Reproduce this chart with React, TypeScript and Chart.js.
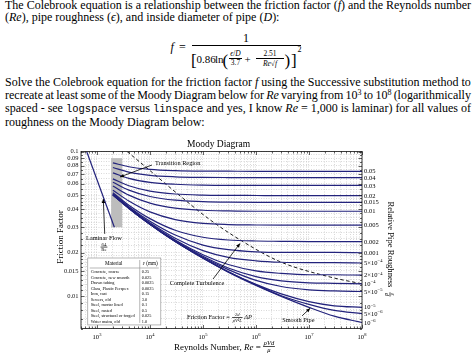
import React, { useEffect, useRef } from "react";
import { Chart, registerables } from "chart.js";

Chart.register(...registerables);

// ---------------- data ----------------
const reynoldsNumbers = [2000, 4000, 1e4, 3e4, 1e5, 3e5, 1e6, 3e6, 1e7, 3e7, 1e8];

const fRough0p05 = [0.0835, 0.0785, 0.0753, 0.0738, 0.0732, 0.0731, 0.073, 0.073, 0.073, 0.073, 0.073];
const fRough0p04 = [0.0775, 0.0721, 0.0685, 0.0669, 0.0663, 0.0661, 0.066, 0.066, 0.066, 0.066, 0.066];
const fRough0p03 = [0.0712, 0.0653, 0.0613, 0.0594, 0.0586, 0.0584, 0.0584, 0.0583, 0.0583, 0.0583, 0.0583];
const fRough0p02 = [0.0647, 0.058, 0.0533, 0.0509, 0.05, 0.0498, 0.0497, 0.0496, 0.0496, 0.0496, 0.0496];
const fRough0p015 = [0.0613, 0.0541, 0.0489, 0.0461, 0.0451, 0.0447, 0.0446, 0.0446, 0.0446, 0.0446, 0.0446];
const fRough0p01 = [0.0578, 0.05, 0.044, 0.0406, 0.0393, 0.0389, 0.0387, 0.0387, 0.0387, 0.0387, 0.0387];
const fRough0p005 = [0.0541, 0.0455, 0.0383, 0.0339, 0.0319, 0.0313, 0.0311, 0.031, 0.031, 0.031, 0.031];
const fRough0p002 = [0.0519, 0.0426, 0.0344, 0.0286, 0.0256, 0.0245, 0.0241, 0.024, 0.0239, 0.0239, 0.0239];
const fRough0p001 = [0.0512, 0.0416, 0.033, 0.0265, 0.0226, 0.021, 0.0203, 0.0201, 0.0201, 0.0201, 0.02];
const fRough5em4 = [0.0507, 0.0411, 0.0322, 0.0252, 0.0207, 0.0186, 0.0176, 0.0172, 0.0171, 0.0171, 0.017];
const fRough2em4 = [0.0504, 0.0408, 0.0317, 0.0245, 0.0194, 0.0166, 0.015, 0.0144, 0.0141, 0.0141, 0.014];
const fRough1em4 = [0.0504, 0.0407, 0.0316, 0.0242, 0.0189, 0.0157, 0.0137, 0.0128, 0.0124, 0.0123, 0.0122];
const fRough5em5 = [0.0503, 0.0406, 0.0315, 0.024, 0.0186, 0.0153, 0.0129, 0.0117, 0.0111, 0.0109, 0.0108];
const fRough1em5 = [0.0503, 0.0406, 0.0314, 0.0239, 0.0184, 0.0148, 0.0121, 0.0104, 0.0092, 0.0086, 0.0084];
const fRough5em6 = [0.0503, 0.0406, 0.0314, 0.0239, 0.0184, 0.0148, 0.012, 0.0101, 0.0088, 0.008, 0.0076];
const fRough1em6 = [0.0503, 0.0406, 0.0314, 0.0239, 0.0183, 0.0147, 0.0119, 0.01, 0.0084, 0.0073, 0.0066];

const roughnessSeries = [
  fRough0p05, fRough0p04, fRough0p03, fRough0p02, fRough0p015, fRough0p01, fRough0p005, fRough0p002,
  fRough0p001, fRough5em4, fRough2em4, fRough1em4, fRough5em5, fRough1em5, fRough5em6, fRough1em6,
];
// right-hand labels: [prefix, exponent]
const roughnessMantissa = ["0.05", "0.04", "0.03", "0.02", "0.015", "0.01", "0.005", "0.002", "0.001", "5×10", "2×10", "10", "5×10", "10", "5×10", "10"];
const roughnessExponent = ["", "", "", "", "", "", "", "", "", "−4", "−4", "−4", "−5", "−5", "−6", "−6"];

const laminarRe = [640, 2130];
const laminarF = [0.1, 0.03];

const turbulenceRe = [3700, 7500, 30000, 137000, 575000, 2900000, 25000000, 100000000];
const turbulenceF = [0.1, 0.0807, 0.0526, 0.0337, 0.0238, 0.0173, 0.0136, 0.0122];

const transitionRe = [1850, 3000];
const transitionF = [0.03, 0.09];

const xTickPowers = [3, 4, 5, 6, 7, 8];
const yTickLabels = [0.1, 0.09, 0.08, 0.07, 0.06, 0.05, 0.04, 0.03, 0.02, 0.015, 0.01];

const materials = [
  "Concrete, coarse", "Concrete, new smooth", "Drawn tubing", "Glass, Plastic Perspex", "Iron, cast",
  "Sewers, old", "Steel, mortar lined", "Steel, rusted", "Steel, structural or forged", "Water mains, old",
];
const materialRoughness = ["0.25", "0.025", "0.0025", "0.0025", "0.15", "3.0", "0.1", "0.5", "0.025", "1.0"];

// ---------------- style ----------------
const SERIF = "'Liberation Serif', 'Times New Roman', serif";
const MONO = "'Liberation Mono', 'DejaVu Sans Mono', monospace";
const CURVE = "#23237c";

const X_MIN = 500;
const X_MAX = 1e8;
const Y_MIN = 0.006;
const Y_MAX = 0.1;

const xGrid: number[] = [];
for (let d = 2; d <= 7; d++) for (let k = 1; k <= 9; k++) { const v = k * Math.pow(10, d); if (v >= X_MIN) xGrid.push(v); }
xGrid.push(X_MAX);
const yGrid: number[] = [];
for (let k = 6; k <= 20; k++) yGrid.push(k / 1000);
for (let k = 9; k <= 20; k++) yGrid.push((k * 2.5) / 1000);
for (let k = 11; k <= 20; k++) yGrid.push((k * 5) / 1000);

const isLabelY = (v: number) => yTickLabels.some((l) => Math.abs(l - v) < 1e-9);
const isPow10 = (v: number) => Math.abs(Math.log10(v) - Math.round(Math.log10(v))) < 1e-9;

// ---------------- drawing helpers ----------------
function font(size: number, italic = false) {
  return `${italic ? "italic " : ""}${size}px ${SERIF}`;
}
function text(ctx: any, s: string, x: number, y: number, size: number, align = "left", italic = false, base = "alphabetic") {
  ctx.font = font(size, italic);
  ctx.textAlign = align;
  ctx.textBaseline = base;
  ctx.fillText(s, x, y);
}
function widthOf(ctx: any, s: string, size: number, italic = false) {
  ctx.font = font(size, italic);
  return ctx.measureText(s).width;
}
function frac(ctx: any, num: string, den: string, cx: number, axisY: number, size: number, italic = true) {
  const w = Math.max(widthOf(ctx, num, size, italic), widthOf(ctx, den, size, italic)) + 1.5;
  text(ctx, num, cx, axisY - 1.3, size, "center", italic);
  text(ctx, den, cx, axisY + size * 0.72 + 0.8, size, "center", italic);
  ctx.fillRect(cx - w / 2, axisY - 0.35, w, 0.7);
  return w;
}
function arrow(ctx: any, x1: number, y1: number, x2: number, y2: number) {
  ctx.strokeStyle = "#000";
  ctx.fillStyle = "#000";
  ctx.lineWidth = 0.8;
  ctx.beginPath();
  ctx.moveTo(x1, y1);
  ctx.lineTo(x2, y2);
  ctx.stroke();
  const a = Math.atan2(y2 - y1, x2 - x1);
  const L = 4, W = 1.8;
  ctx.beginPath();
  ctx.moveTo(x2, y2);
  ctx.lineTo(x2 - L * Math.cos(a) + W * Math.sin(a), y2 - L * Math.sin(a) - W * Math.cos(a));
  ctx.lineTo(x2 - L * Math.cos(a) - W * Math.sin(a), y2 - L * Math.sin(a) + W * Math.cos(a));
  ctx.closePath();
  ctx.fill();
}
function power(ctx: any, mant: string, exp: string, x: number, yMid: number, size: number, align: string) {
  const base = yMid + size * 0.33;
  const wm = widthOf(ctx, mant, size);
  const es = size * 0.7;
  const we = exp ? widthOf(ctx, exp, es) : 0;
  const total = wm + we;
  let x0 = x;
  if (align === "center") x0 = x - total / 2;
  text(ctx, mant, x0, base, size, "left");
  if (exp) text(ctx, exp, x0 + wm + 0.2, base - size * 0.42, es, "left");
}

const moodyPlugin = {
  id: "moodyExtras",
  beforeDatasetsDraw(chart: any) {
    const { ctx, scales } = chart;
    const x = scales.x, y = scales.y;
    ctx.save();
    ctx.fillStyle = "#bdbdbd";
    const x0 = x.getPixelForValue(transitionRe[0]);
    const x1 = x.getPixelForValue(transitionRe[1]);
    const y0 = y.getPixelForValue(transitionF[1]);
    const y1 = y.getPixelForValue(transitionF[0]);
    ctx.fillRect(x0, y0, x1 - x0, y1 - y0);
    ctx.restore();
  },
  afterDatasetsDraw(chart: any) {
    const { ctx, chartArea: ca, scales } = chart;
    const xs = scales.x, ys = scales.y;
    ctx.save();
    ctx.strokeStyle = "#222";
    ctx.lineWidth = 0.7;
    ctx.beginPath();
    for (const v of xGrid) {
      const px = Math.round(xs.getPixelForValue(v)) + 0.5;
      const len = isPow10(v) ? 3.5 : 2;
      ctx.moveTo(px, ca.bottom); ctx.lineTo(px, ca.bottom - len);
      ctx.moveTo(px, ca.top); ctx.lineTo(px, ca.top + len);
    }
    for (const v of yGrid) {
      const py = Math.round(ys.getPixelForValue(v)) + 0.5;
      const len = isLabelY(v) ? 3.5 : 2;
      ctx.moveTo(ca.left, py); ctx.lineTo(ca.left + len, py);
      ctx.moveTo(ca.right, py); ctx.lineTo(ca.right - len, py);
    }
    ctx.stroke();
    ctx.strokeStyle = "#111";
    ctx.lineWidth = 0.8;
    ctx.strokeRect(ca.left, ca.top, ca.right - ca.left, ca.bottom - ca.top);
    ctx.restore();
  },
  afterDraw(chart: any) {
    const { ctx, chartArea: ca, scales } = chart;
    const xs = scales.x, ys = scales.y;
    const px = (v: number) => xs.getPixelForValue(v);
    const py = (v: number) => ys.getPixelForValue(v);
    ctx.save();
    ctx.fillStyle = "#000";

    // title
    text(ctx, "Moody Diagram", (ca.left + ca.right) / 2 - 3, ca.top - 7.5, 9.5, "center", false, "middle");

    // x tick labels
    for (const p of xTickPowers) power(ctx, "10", String(p), px(Math.pow(10, p)), ca.bottom + 8.5, 6.5, "center");

    // right labels (relative roughness at end of each curve)
    roughnessSeries.forEach((s, i) => {
      power(ctx, roughnessMantissa[i], roughnessExponent[i], ca.right + 2, py(s[s.length - 1]), 6.5, "left");
    });

    // x title
    {
      const size = 9;
      const a = "Reynolds Number, ";
      const wa = widthOf(ctx, a, size);
      const wb = widthOf(ctx, "Re", size, true);
      const wc = widthOf(ctx, " = ", size);
      const wf = Math.max(widthOf(ctx, "ρVd", 6.5, true), widthOf(ctx, "μ", 6.5, true)) + 1.5;
      const total = wa + wb + wc + wf;
      let x0 = (ca.left + ca.right) / 2 - total / 2 + 3;
      const base = ca.bottom + 21;
      text(ctx, a, x0, base, size);
      text(ctx, "Re", x0 + wa, base, size, "left", true);
      text(ctx, " = ", x0 + wa + wb, base, size);
      frac(ctx, "ρVd", "μ", x0 + wa + wb + wc + wf / 2, base - 3, 6.5, true);
    }

    // left title
    ctx.save();
    ctx.translate(ca.left - 20, (ca.top + ca.bottom) / 2 - 3);
    ctx.rotate(-Math.PI / 2);
    text(ctx, "Friction Factor", 0, 0, 9, "center", false, "middle");
    ctx.restore();

    // right title
    ctx.save();
    ctx.translate(ca.right + 28.5, ca.top + 50);
    ctx.rotate(Math.PI / 2);
    const rt = "Relative Pipe Roughness";
    text(ctx, rt, 0, 3, 8.6, "left", false, "alphabetic");
    const wr = widthOf(ctx, rt, 8.6);
    frac(ctx, "ε", "d", wr + 7, 0.5, 5.5, true);
    ctx.restore();

    // Transition Region
    text(ctx, "Transition Region", px(12400), py(0.0833), 6.3, "left", false, "middle");
    arrow(ctx, px(10900), py(0.0807), px(2720), py(0.0667));

    // Laminar flow
    text(ctx, "Laminar Flow", px(1357), py(0.0253), 6.3, "center", false, "middle");
    frac(ctx, "64", "Re", px(1357), py(0.0219), 4.8, false);
    arrow(ctx, px(1400), py(0.027), px(1317), py(0.047));

    // Complete turbulence
    text(ctx, "Complete Turbulence", px(77000), py(0.01227), 6.3, "center", false, "middle");
    arrow(ctx, px(155000), py(0.01318), px(500000), py(0.0232));

    // Friction factor definition
    {
      const y0 = py(0.00715);
      const x0 = px(50000);
      const a = "Friction Factor = ";
      const wa = widthOf(ctx, a, 6.3);
      text(ctx, a, x0, y0 + 2, 6.3);
      const wf = frac(ctx, "2d", "ρV²L", x0 + wa + 6, y0, 4.6, true);
      text(ctx, "ΔP", x0 + wa + wf + 2.5, y0 + 2, 6.3, "left", true);
    }

    // Smooth pipe
    text(ctx, "Smooth Pipe", px(6300000), py(0.00682), 6.3, "center", false, "middle");
    arrow(ctx, px(7400000), py(0.00733), px(10500000), py(0.00828));

    // material table
    {
      const l = px(670), r = px(16000), t = py(0.0184), b = py(0.00635);
      ctx.fillStyle = "#fff";
      ctx.fillRect(l, t, r - l, b - t);
      ctx.strokeStyle = "#999";
      ctx.lineWidth = 0.7;
      ctx.strokeRect(l, t, r - l, b - t);
      const div = l + (r - l) * 0.712;
      const headBottom = t + 10;
      ctx.beginPath();
      ctx.moveTo(l + 2, headBottom); ctx.lineTo(r - 2, headBottom);
      ctx.moveTo(div, t + 2); ctx.lineTo(div, b - 2);
      ctx.stroke();
      ctx.fillStyle = "#000";
      text(ctx, "Material", (l + div) / 2, t + 5.5, 5.2, "center", false, "middle");
      const we = widthOf(ctx, "ε", 5.2, true);
      const wm = widthOf(ctx, " (mm)", 5.2);
      const hx = (div + r) / 2 - (we + wm) / 2;
      text(ctx, "ε", hx, t + 5.5, 5.2, "left", true, "middle");
      text(ctx, " (mm)", hx + we, t + 5.5, 5.2, "left", false, "middle");
      const rowH = (b - headBottom - 2) / materials.length;
      materials.forEach((m, i) => {
        const yy = headBottom + 1.5 + rowH * (i + 0.5);
        text(ctx, m, l + 3, yy, 4.3, "left", false, "middle");
        text(ctx, materialRoughness[i], div + 2, yy, 4.3, "left", false, "middle");
      });
    }
    ctx.restore();
  },
};

function buildConfig(): any {
  const datasets: any[] = roughnessSeries.map((series, i) => ({
    label: roughnessMantissa[i] + roughnessExponent[i],
    data: reynoldsNumbers.map((re, j) => ({ x: re, y: series[j] })),
    borderColor: CURVE,
    borderWidth: 1.2,
    pointRadius: 0,
    fill: false,
    cubicInterpolationMode: "monotone",
  }));
  datasets.push({
    label: "Laminar",
    data: laminarRe.map((re, j) => ({ x: re, y: laminarF[j] })),
    borderColor: CURVE,
    borderWidth: 1.2,
    pointRadius: 0,
    fill: false,
  });
  datasets.push({
    label: "Complete turbulence",
    data: turbulenceRe.map((re, j) => ({ x: re, y: turbulenceF[j] })),
    borderColor: "#000",
    borderWidth: 0.9,
    borderDash: [3.5, 2.5],
    pointRadius: 0,
    fill: false,
    cubicInterpolationMode: "monotone",
  });

  const gridOpts = { color: "#c9c9c9", lineWidth: 0.7, drawTicks: false };
  return {
    type: "line",
    data: { datasets },
    plugins: [moodyPlugin],
    options: {
      animation: false,
      responsive: false,
      events: [],
      layout: { padding: { left: 0, right: 112, top: 21.5, bottom: 0 } },
      plugins: { legend: { display: false }, title: { display: false }, tooltip: { enabled: false } },
      scales: {
        x: {
          type: "logarithmic",
          min: X_MIN,
          max: X_MAX,
          afterBuildTicks: (s: any) => { s.ticks = xGrid.map((v) => ({ value: v })); },
          afterFit: (s: any) => { s.height = 24.5; },
          ticks: { autoSkip: false, maxRotation: 0, callback: () => "" },
          grid: gridOpts,
          border: { display: false, dash: [1, 1.5] },
        },
        y: {
          type: "logarithmic",
          min: Y_MIN,
          max: Y_MAX,
          afterBuildTicks: (s: any) => { s.ticks = yGrid.map((v) => ({ value: v })); },
          afterFit: (s: any) => { s.width = 81; },
          ticks: {
            autoSkip: false,
            padding: 2.5,
            color: "#111",
            font: { family: SERIF, size: 6.5 },
            callback: (v: any) => {
              const l = yTickLabels.find((t) => Math.abs(t - v) < 1e-9);
              return l === undefined ? "" : String(l);
            },
          },
          grid: gridOpts,
          border: { display: false, dash: [1, 1.5] },
        },
      },
    },
  };
}

// ---------------- page text ----------------
const I = ({ children }: any) => <span style={{ fontStyle: "italic" }}>{children}</span>;
const Sup = ({ children }: any) => <span style={{ fontSize: 8, position: "relative", top: -4.5 }}>{children}</span>;
const Mono = ({ children }: any) => <span style={{ fontFamily: MONO, fontSize: 10.5 }}>{children}</span>;

function JLine({ top, words }: any) {
  return (
    <div style={{ position: "absolute", left: 5, width: 466, top, height: 14, lineHeight: "14px", fontSize: 12, fontFamily: SERIF, display: "flex", justifyContent: "space-between", whiteSpace: "nowrap" }}>
      {words.map((w: any, i: number) => <span key={i}>{w}</span>)}
    </div>
  );
}
function PLine({ top, children }: any) {
  return (
    <div style={{ position: "absolute", left: 5, top, height: 14, lineHeight: "14px", fontSize: 12, fontFamily: SERIF, whiteSpace: "nowrap" }}>{children}</div>
  );
}
function Abs({ x, base, size = 12, italic = false, center = false, children }: any) {
  return (
    <span style={{ position: "absolute", left: x, top: base - 0.8375 * size, fontSize: size, lineHeight: `${size}px`, fontFamily: SERIF, fontStyle: italic ? "italic" : "normal", whiteSpace: "nowrap", transform: center ? "translateX(-50%)" : undefined }}>{children}</span>
  );
}
function Bar({ x, y, w }: any) {
  return <div style={{ position: "absolute", left: x, top: y, width: w, height: 1, background: "#000" }} />;
}

const line1 = ["The", "Colebrook", "equation", "is", "a", "relationship", "between", "the", "friction", "factor", <>(<I>f</I>)</>, "and", "the", "Reynolds", "number"];
const line3 = ["Solve", "the", "Colebrook", "equation", "for", "the", "friction", "factor", <I>f</I>, "using", "the", "Successive", "substitution", "method", "to"];
const line4 = ["recreate", "at", "least", "some", "of", "the", "Moody", "Diagram", "below", "for", <I>Re</I>, "varying", "from", <>10<Sup>3</Sup></>, "to", <>10<Sup>8</Sup></>, "(logarithmically"];
const line5 = ["spaced", "-", "see", <Mono>logspace</Mono>, "versus", <Mono>linspace</Mono>, "and", "yes,", "I", "know", <I>Re</I>, "=", "1,000", "is", "laminar)", "for", "all", "values", "of"];

export default function App() {
  const ref = useRef<HTMLCanvasElement>(null);
  useEffect(() => {
    const chart = new Chart(ref.current as HTMLCanvasElement, buildConfig());
    return () => chart.destroy();
  }, []);
  return (
    <div style={{ position: "absolute", left: 0, top: 0, width: 474, height: 353, background: "#fff", overflow: "hidden", color: "#000" }}>
      <JLine top={-2} words={line1} />
      <PLine top={9.7}>(<I>Re</I>), pipe roughness (<I>ϵ</I>), and inside diameter of pipe (<I>D</I>):</PLine>

      <Abs x={170.5} base={51.5} italic>f</Abs>
      <Abs x={179} base={51.5}>=</Abs>
      <Bar x={192} y={45} w={109} />
      <Abs x={246} base={42.5} center>1</Abs>
      <Abs x={191} base={66} size={17}>[</Abs>
      <Abs x={196.5} base={63.5} size={11}>0.86</Abs>
      <Abs x={215} base={63.5} size={11}>ln</Abs>
      <Abs x={222.5} base={66} size={17}>(</Abs>
      <Abs x={235.5} base={56.5} size={7.5} center><I>ϵ</I>/<I>D</I></Abs>
      <Bar x={229} y={58} w={13} />
      <Abs x={235.5} base={65.5} size={7.5} center>3.7</Abs>
      <Abs x={247.5} base={63.5} size={11} center>+</Abs>
      <Abs x={270} base={56.5} size={7.5} center>2.51</Abs>
      <Bar x={256} y={58} w={28} />
      <Abs x={270} base={66} size={7.5} center><I>Re</I>√<span style={{ textDecoration: "overline" }}><I>f</I></span></Abs>
      <Abs x={284.5} base={66} size={17}>)</Abs>
      <Abs x={291} base={66} size={17}>]</Abs>
      <Abs x={297.5} base={53} size={8}>2</Abs>

      <JLine top={75} words={line3} />
      <JLine top={88.3} words={line4} />
      <JLine top={101.3} words={line5} />
      <PLine top={114.5}>roughness on the Moody Diagram below:</PLine>

      <canvas ref={ref} width={474} height={223} style={{ position: "absolute", left: 0, top: 130, width: 474, height: 223 }} />
    </div>
  );
}
